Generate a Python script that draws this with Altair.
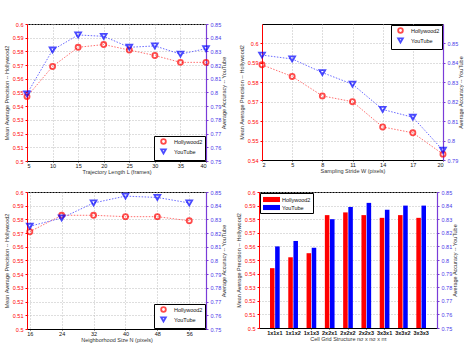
import altair as alt
import pandas as pd

# ---------------- data ----------------
series_names = ["Hollywood2", "YouTube"]

traj_L = [5, 10, 15, 20, 25, 30, 35, 40]
traj_hw = [0.547, 0.569, 0.583, 0.585, 0.581, 0.577, 0.572, 0.572]
traj_yt = [0.799, 0.831, 0.842, 0.841, 0.833, 0.834, 0.828, 0.832]

stride_W = [2, 5, 8, 11, 14, 17, 20]
stride_hw = [0.589, 0.583, 0.573, 0.570, 0.557, 0.554, 0.543]
stride_yt = [0.844, 0.842, 0.835, 0.829, 0.816, 0.812, 0.795]

nbhd_N = [16, 24, 32, 40, 48, 56]
nbhd_hw = [0.571, 0.583, 0.583, 0.582, 0.582, 0.579]
nbhd_yt = [0.825, 0.831, 0.842, 0.847, 0.846, 0.842]

grid_cells = ["1x1x1", "1x1x2", "1x1x3", "2x2x1", "2x2x2", "2x2x3", "3x3x1", "3x3x2", "3x3x3"]
grid_hw = [0.544, 0.552, 0.555, 0.583, 0.585, 0.583, 0.581, 0.583, 0.581]
grid_yt = [0.810, 0.814, 0.809, 0.830, 0.839, 0.842, 0.837, 0.840, 0.840]

ticks_left_a = [0.5, 0.51, 0.52, 0.53, 0.54, 0.55, 0.56, 0.57, 0.58, 0.59, 0.6]
ticks_right_a = [0.75, 0.76, 0.77, 0.78, 0.79, 0.8, 0.81, 0.82, 0.83, 0.84, 0.85]
ticks_left_b = [0.54, 0.55, 0.56, 0.57, 0.58, 0.59, 0.6]
ticks_right_b = [0.79, 0.8, 0.81, 0.82, 0.83, 0.84, 0.85]

# ---------------- style ----------------
FONT = "Liberation Sans"
FS = 5.5
RED = "#ff0000"
BLUE = "#0000ff"
RAXIS = "#7a3cd8"
RLABEL = "#4b3ae8"
GRID = "#bdbdbd"
LEFT_TITLE = "Mean Average Precision -- Hollywood2"
RIGHT_TITLE = "Average Accuracy -- YouTube"


def left_axis(values):
    return alt.Axis(values=values, format=".2~f", title=LEFT_TITLE, orient="left",
                    domainColor=RED, labelColor=RED, tickColor=RED, tickSize=2,
                    grid=True, gridDash=[1, 2], gridColor=GRID,
                    labelFontSize=FS, titleFontSize=FS, titleColor="#333333",
                    titleFontWeight="normal", labelPadding=2, minExtent=15,
                    maxExtent=15, titlePadding=3)


def right_axis(values):
    return alt.Axis(values=values, format=".2~f", title=RIGHT_TITLE, orient="right",
                    domainColor=RAXIS, domainWidth=1.2, labelColor=RLABEL, tickColor=RAXIS,
                    tickSize=2, grid=False, labelFontSize=FS, titleFontSize=FS,
                    titleColor="#333333", titleFontWeight="normal", titleAngle=270,
                    labelPadding=2, minExtent=16, maxExtent=16, titlePadding=4)


def x_axis(values, title, grid=True, fmt=None, bold=False):
    kw = dict(values=values, title=title, grid=grid, gridDash=[1, 2], gridColor=GRID,
              labelFontSize=FS, titleFontSize=FS, titleColor="#333333",
              titleFontWeight="normal", labelColor="#111111", tickSize=1,
              tickColor="#333333", domainColor="#000000", labelPadding=1,
              titlePadding=1, labelAngle=0)
    if fmt:
        kw["format"] = fmt
    if bold:
        kw["labelFontWeight"] = "bold"
    return alt.Axis(**kw)


def legend(orient, symbol_type=None, symbol_size=22, stroke_width=1.8,
           symbol_offset=4, label_offset=7, row_padding=-7):
    kw = dict(orient=orient, title=None, fillColor="white", strokeColor="black",
              padding=2, offset=1, labelFontSize=FS, labelFont=FONT,
              symbolSize=symbol_size, symbolStrokeWidth=stroke_width,
              rowPadding=row_padding,
              labelColor="#111111", labelOffset=label_offset,
              symbolOffset=symbol_offset)
    if symbol_type:
        kw["symbolType"] = symbol_type
    return alt.Legend(**kw)


def line_panel(xs, hw, yt, xdom, xticks, xtitle, ldom, lticks, rdom, rticks,
               lorient, w, h):
    df_hw = pd.DataFrame({"x": xs, "v": hw, "series": series_names[0]})
    df_yt = pd.DataFrame({"x": xs, "v": yt, "series": series_names[1]})
    xenc = alt.X("x:Q", scale=alt.Scale(domain=xdom, nice=False, zero=False),
                 axis=x_axis(xticks, xtitle))
    color = alt.Color("series:N",
                      scale=alt.Scale(domain=series_names, range=[RED, BLUE]),
                      legend=legend(lorient))
    shape = alt.Shape("series:N",
                      scale=alt.Scale(domain=series_names, range=["circle", "triangle-down"]),
                      legend=legend(lorient))
    yl = alt.Y("v:Q", scale=alt.Scale(domain=ldom, nice=False, zero=False),
               axis=left_axis(lticks))
    yr = alt.Y("v:Q", scale=alt.Scale(domain=rdom, nice=False, zero=False),
               axis=right_axis(rticks))
    hw_line = alt.Chart(df_hw).mark_line(color="#ff7070", strokeDash=[1.5, 1.5],
                                         strokeWidth=1).encode(x=xenc, y=yl)
    hw_pts = alt.Chart(df_hw).mark_point(filled=False, size=26, strokeWidth=1.8).encode(
        x=xenc, y=yl, color=color, shape=shape)
    yt_line = alt.Chart(df_yt).mark_line(color="#6a6aff", strokeDash=[1.5, 1.5],
                                         strokeWidth=1).encode(x=xenc, y=yr)
    yt_pts = alt.Chart(df_yt).mark_point(filled=False, size=34, strokeWidth=1.8).encode(
        x=xenc, y=yr, color=color, shape=shape)
    left = alt.layer(hw_line, hw_pts)
    right = alt.layer(yt_line, yt_pts)
    return alt.layer(left, right).resolve_scale(y="independent").properties(
        width=w, height=h)


def bar_panel(w, h):
    df_hw = pd.DataFrame({"cell": grid_cells, "v": grid_hw, "series": series_names[0]})
    df_yt = pd.DataFrame({"cell": grid_cells, "v": grid_yt, "series": series_names[1]})
    xenc = alt.X("cell:N", sort=grid_cells,
                 scale=alt.Scale(paddingInner=0.47, paddingOuter=0.6),
                 axis=x_axis(grid_cells, "Cell Grid Structure nσ x nσ x nτ",
                             grid=False, bold=True))
    xoff = alt.XOffset("series:N", scale=alt.Scale(domain=series_names, paddingInner=0.12))
    color = alt.Color("series:N",
                      scale=alt.Scale(domain=series_names, range=[RED, BLUE]),
                      legend=legend("top-left", symbol_type="M-2,-0.6H2V0.6H-2Z",
                                    symbol_size=72, stroke_width=0,
                                    symbol_offset=5, label_offset=6, row_padding=-1))
    yl = alt.Y("v:Q", scale=alt.Scale(domain=[0.5, 0.6], nice=False, zero=False),
               axis=left_axis(ticks_left_a))
    yr = alt.Y("v:Q", scale=alt.Scale(domain=[0.75, 0.85], nice=False, zero=False),
               axis=right_axis(ticks_right_a))
    b1 = alt.Chart(df_hw).mark_bar().encode(x=xenc, xOffset=xoff, y=yl,
                                             y2=alt.datum(0.5), color=color)
    b2 = alt.Chart(df_yt).mark_bar().encode(x=xenc, xOffset=xoff, y=yr,
                                             y2=alt.datum(0.75), color=color)
    return alt.layer(b1, b2).resolve_scale(y="independent").properties(width=w, height=h)


p1 = line_panel(traj_L, traj_hw, traj_yt, [5, 40], traj_L, "Trajectory Length L (frames)",
                [0.5, 0.6], ticks_left_a, [0.75, 0.85], ticks_right_a, "bottom-right", 179, 137)
p2 = line_panel(stride_W, stride_hw, stride_yt, [2, 20], stride_W, "Sampling Stride W (pixels)",
                [0.54, 0.61], ticks_left_b, [0.79, 0.86], ticks_right_b, "top-right", 181, 136)
p3 = line_panel(nbhd_N, nbhd_hw, nbhd_yt, [15.3, 60.2], nbhd_N, "Neighborhood Size N (pixels)",
                [0.5, 0.6], ticks_left_a, [0.75, 0.85], ticks_right_a, "bottom-right", 179, 137)
p4 = bar_panel(178, 136)

indep = dict(x="independent", y="independent", color="independent",
             shape="independent", xOffset="independent")

row1 = alt.hconcat(p1, p2, spacing=11).resolve_scale(**indep).resolve_legend(
    color="independent", shape="independent")
row2 = alt.hconcat(p3, p4, spacing=8).resolve_scale(**indep).resolve_legend(
    color="independent", shape="independent")

chart = alt.vconcat(row1, row2, spacing=13).resolve_scale(**indep).resolve_legend(
    color="independent", shape="independent").properties(
    padding={"left": 3, "top": 21, "right": 0, "bottom": 0},
    background="white",
).configure(font=FONT).configure_view(stroke="#000000", strokeWidth=1)

chart.save("out.html", embed_options={"renderer": "svg", "actions": False})
